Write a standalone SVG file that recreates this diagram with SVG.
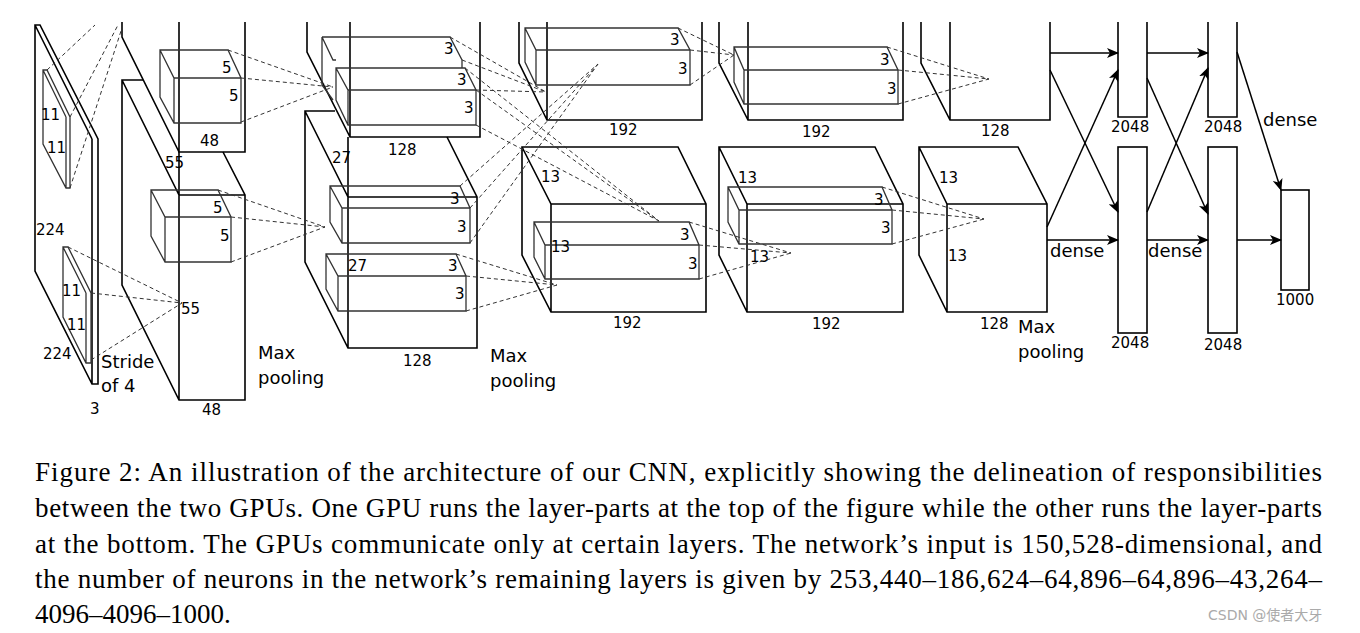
<svg xmlns="http://www.w3.org/2000/svg" width="1360" height="633" viewBox="0 0 1360 633">
<style>
.s{fill:none;stroke:#000;stroke-width:1.6}
.k{fill:none;stroke:#333;stroke-width:1.3}
.d{fill:none;stroke:#333;stroke-width:1;stroke-dasharray:4,3}
.a{fill:none;stroke:#000;stroke-width:1.5;marker-end:url(#ar)}
text{font-family:"DejaVu Sans",sans-serif;fill:#000}
.n{font-size:15px}
.l{font-size:18px}
.c{font-family:"Liberation Serif",serif;font-size:27px}
</style>
<defs><marker id="ar" markerWidth="12" markerHeight="10" refX="11" refY="5" orient="auto" markerUnits="userSpaceOnUse"><path d="M0,0 L12,5 L0,10 L3,5 z" fill="#000"/></marker></defs>
<rect width="1360" height="633" fill="#fff"/>
<g id="input">
<path class="s" d="M35,25 L40,25 L98,139 L98,384 L92,384 L35,271 Z M92,139 L35,25 M92,139 L92,384"/>
<path class="k" d="M43,70 L47,70 L70,117 L70,188 L66,188 L43,144 Z M66,117 L43,70 M66,117 L66,188"/>
<path class="k" d="M63,247 L68,247 L91,293 L91,363 L86,363 L63,317 Z M86,293 L63,247 M86,293 L86,363"/>
<text class="n" x="41" y="120">11</text><text class="n" x="47" y="153">11</text>
<text class="n" x="62" y="296">11</text><text class="n" x="67" y="330">11</text>
<text class="n" x="36" y="235">224</text><text class="n" x="43" y="359">224</text>
<text class="l" x="101" y="368">Stride</text><text class="l" x="101" y="392">of 4</text>
<text class="n" x="90" y="414">3</text>
</g>
<g id="conv1">
<path class="s" d="M179,22 L179,152 L245,152 L245,22 M122,22 L122,37 L179,152"/>
<path class="s" d="M143,80 L122,80 L122,285 L179,400 L245,400 L245,195 L223,152 M122,80 L179,195 L245,195 M179,152 L179,400"/>
<path class="k" d="M160,50 L228,50 L241,78 L241,123 L174,123 L160,97 Z M160,50 L174,78 L241,78 M174,78 L174,123"/>
<path class="k" d="M151,190 L218,190 L231,217 L231,262 L165,262 L151,236 Z M151,190 L165,217 L231,217 M165,217 L165,262"/>
<text class="n" x="222" y="73">5</text><text class="n" x="229" y="101">5</text>
<text class="n" x="213" y="213">5</text><text class="n" x="220" y="241">5</text>
<text class="n" x="165" y="168">55</text><text class="n" x="181" y="314">55</text>
<text class="n" x="200" y="146">48</text><text class="n" x="202" y="415">48</text>
<text class="l" x="258" y="359">Max</text><text class="l" x="258" y="384">pooling</text>
</g>
<g id="conv2">
<path class="s" d="M307,22 L307,52 L350,137 L480,137 L480,22 M350,22 L350,137"/>
<path class="s" d="M335,111 L305,111 L305,262 L348,348 L477,348 L477,197 L447,137 M305,111 L348,197 L477,197 M348,137 L348,348"/>
<path class="k" d="M322,37 L450,37 L462,60 L462,68 M322,37 L322,85 L333,100 M322,37 L333,60 L336,60"/>
<path class="k" d="M336,68 L465,68 L476,90 L476,125 L348,125 L336,100 Z M336,68 L348,90 L476,90 M348,90 L348,125"/>
<path class="k" d="M330,186 L460,186 L470,208 L470,243 L342,243 L330,222 Z M330,186 L342,208 L470,208 M342,208 L342,243"/>
<path class="k" d="M326,254 L456,254 L466,276 L466,311 L338,311 L326,289 Z M326,254 L338,276 L466,276 M338,276 L338,311"/>
<text class="n" x="444" y="54">3</text><text class="n" x="457" y="85">3</text><text class="n" x="464" y="113">3</text>
<text class="n" x="450" y="204">3</text><text class="n" x="457" y="232">3</text>
<text class="n" x="448" y="271">3</text><text class="n" x="455" y="299">3</text>
<text class="n" x="332" y="163">27</text><text class="n" x="348" y="271">27</text>
<text class="n" x="388" y="155">128</text><text class="n" x="403" y="366">128</text>
<text class="l" x="490" y="362">Max</text><text class="l" x="490" y="387">pooling</text>
</g>
<g id="conv3">
<path class="s" d="M519,22 L519,63 L547,120 L702,120 L702,22 M547,22 L547,120"/>
<path class="s" d="M522,147 L678,147 L706,204 L706,312 L551,312 L522,255 Z M522,147 L551,204 L706,204 M551,204 L551,312"/>
<path class="k" d="M525,28 L678,28 L690,50 L690,85 L536,85 L525,62 Z M525,28 L536,50 L690,50 M536,50 L536,85"/>
<path class="k" d="M534,222 L689,222 L699,245 L699,279 L545,279 L534,257 Z M534,222 L545,245 L699,245 M545,245 L545,279"/>
<text class="n" x="670" y="45">3</text><text class="n" x="678" y="74">3</text>
<text class="n" x="680" y="240">3</text><text class="n" x="688" y="269">3</text>
<text class="n" x="541" y="182">13</text><text class="n" x="551" y="252">13</text>
<text class="n" x="609" y="135">192</text><text class="n" x="613" y="328">192</text>
</g>
<g id="conv4">
<path class="s" d="M719,22 L719,63 L748,120 L903,120 L903,22 M748,22 L748,120"/>
<path class="s" d="M719,147 L875,147 L903,204 L903,312 L747,312 L719,255 Z M719,147 L747,204 L903,204 M747,204 L747,312"/>
<path class="k" d="M734,47 L887,47 L898,70 L898,104 L744,104 L734,82 Z M734,47 L744,70 L898,70 M744,70 L744,104"/>
<path class="k" d="M728,187 L882,187 L892,210 L892,244 L739,244 L728,222 Z M728,187 L739,210 L892,210 M739,210 L739,244"/>
<text class="n" x="880" y="65">3</text><text class="n" x="887" y="94">3</text>
<text class="n" x="874" y="205">3</text><text class="n" x="881" y="233">3</text>
<text class="n" x="738" y="183">13</text><text class="n" x="750" y="262">13</text>
<text class="n" x="802" y="137">192</text><text class="n" x="812" y="329">192</text>
</g>
<g id="conv5">
<path class="s" d="M921,22 L921,63 L950,120 L1050,120 L1050,22 M950,22 L950,120"/>
<path class="s" d="M919,147 L1018,147 L1047,204 L1047,312 L947,312 L919,255 Z M919,147 L947,204 L1047,204 M947,204 L947,312"/>
<text class="n" x="939" y="183">13</text><text class="n" x="948" y="261">13</text>
<text class="n" x="981" y="136">128</text><text class="n" x="980" y="329">128</text>
<text class="l" x="1018" y="333">Max</text><text class="l" x="1018" y="358">pooling</text>
</g>
<g id="dense1">
<path class="s" d="M1118,22 L1118,117 L1147,117 L1147,22"/>
<rect class="s" x="1118" y="147" width="29" height="186"/>
<text class="n" x="1111" y="132">2048</text><text class="n" x="1111" y="348">2048</text>
<text class="l" x="1050" y="257">dense</text>
</g>
<g id="dense2">
<path class="s" d="M1208,22 L1208,117 L1237,117 L1237,22"/>
<rect class="s" x="1208" y="147" width="29" height="186"/>
<text class="n" x="1204" y="132">2048</text><text class="n" x="1204" y="350">2048</text>
<text class="l" x="1148" y="257">dense</text>
<text class="l" x="1263" y="126">dense</text>
</g>
<g id="output">
<rect class="s" x="1281" y="190" width="28" height="100"/>
<text class="n" x="1276" y="305">1000</text>
</g>
<g id="connectors">
<path class="d" d="M47,70 L95,25 M70,117 L118,25 M70,188 L122,28"/>
<path class="d" d="M68,247 L182,303 M91,293 L182,303 M91,360 L182,303"/>
<path class="d" d="M228,50 L333,87 M241,78 L333,87 M241,122 L333,87"/>
<path class="d" d="M218,190 L325,227 M231,217 L325,227 M231,262 L325,227"/>
<path class="d" d="M450,37 L546,92 M462,60 L546,92 M476,90 L546,92"/>
<path class="d" d="M465,68 L659,221 M476,90 L659,221 M476,125 L659,221"/>
<path class="d" d="M460,186 L598,64 M470,208 L598,64 M470,243 L598,64"/>
<path class="d" d="M456,254 L557,285 M466,276 L557,285 M466,311 L557,285"/>
<path class="d" d="M678,28 L734,55 M690,50 L734,55 M690,85 L734,55"/>
<path class="d" d="M689,222 L791,253 M699,245 L791,253 M699,279 L791,253"/>
<path class="d" d="M887,47 L989,79 M898,70 L989,79 M898,104 L989,79"/>
<path class="d" d="M882,187 L984,219 M892,210 L984,219 M892,244 L984,219"/>
<path class="a" d="M1050,53 L1118,53"/>
<path class="a" d="M1050,70 L1118,212"/>
<path class="a" d="M1047,227 L1118,70"/>
<path class="a" d="M1047,240 L1118,240"/>
<path class="a" d="M1147,53 L1208,53"/>
<path class="a" d="M1147,78 L1208,214"/>
<path class="a" d="M1147,212 L1208,68"/>
<path class="a" d="M1147,240 L1208,240"/>
<path class="a" d="M1237,52 L1281,190"/>
<path class="a" d="M1237,240 L1281,240"/>
</g>
<g id="caption">
<text class="c" x="35" y="481" textLength="1287" lengthAdjust="spacing">Figure 2: An illustration of the architecture of our CNN, explicitly showing the delineation of responsibilities</text>
<text class="c" x="35" y="517" textLength="1287" lengthAdjust="spacing">between the two GPUs. One GPU runs the layer-parts at the top of the figure while the other runs the layer-parts</text>
<text class="c" x="35" y="553" textLength="1287" lengthAdjust="spacing">at the bottom. The GPUs communicate only at certain layers. The network’s input is 150,528-dimensional, and</text>
<text class="c" x="35" y="588" textLength="1287" lengthAdjust="spacing">the number of neurons in the network’s remaining layers is given by 253,440–186,624–64,896–64,896–43,264–</text>
<text class="c" x="35" y="623">4096–4096–1000.</text>
<text x="1208" y="620" style="font-family:'DejaVu Sans','Noto Sans CJK SC',sans-serif;font-size:14px;fill:#aaa">CSDN @使者大牙</text>
</g>
</svg>
